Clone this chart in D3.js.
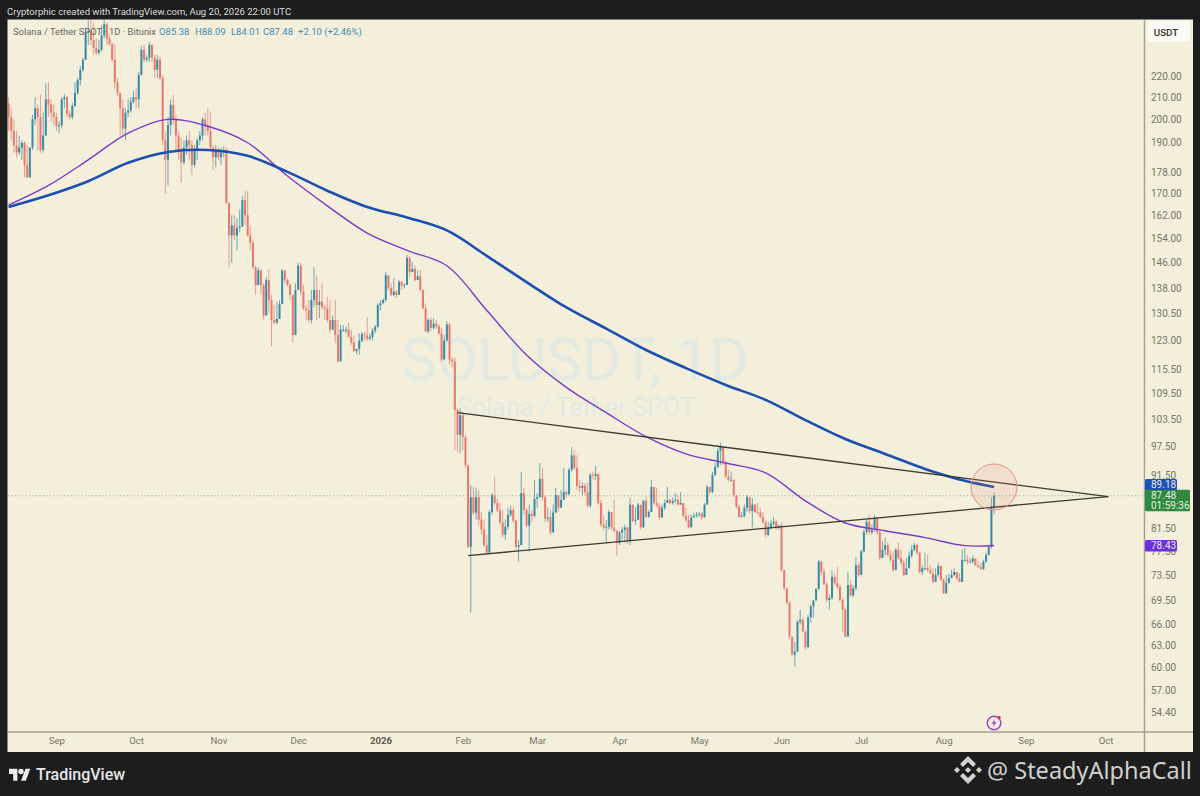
<!DOCTYPE html>
<html>
<head>
<meta charset="utf-8">
<script src="https://cdn.jsdelivr.net/npm/d3@7"></script>
<style>
html, body { margin: 0; padding: 0; background: #1d1d1d; overflow: hidden; }
text { font-family: Roboto, "Noto Sans", sans-serif; }
</style>
</head>
<body>
<div id="chart"></div>
<script>
// SOL/USDT daily. open of a day = close of the day before
var lastDay = new Date(Date.UTC(2026, 7, 20));
var firstOpen = 207;

var closes = [201,195,189,186,188,190,181,176,188,200,205,201,187,193,209,206.5,203,201,197,197.5,
209,210,202.5,201,206,212,218,223,228,242,243,238,234,231.5,233,240.5,246.5,239,236,228,
217,212,205,196,203,204,208,210,209,220.5,233,228,229,235.5,229,223,228,219,191,183,
197.5,206.5,200,193,187,182,188,191,189,181,187,191,193,200,197.5,195,188,184,187,184,
186,187,166.5,155,158.5,155,157.5,158,167.5,162,155,152.5,144.5,139,143.5,139,130,140.5,134.5,128.7,
128,129,133.3,143.5,140.5,139,136,124.5,137.5,145,137,132,131.5,128.7,134.5,137.5,133,134,132.4,132,
128.7,126,128.7,124.5,117.5,126,126,126,124,122.5,120.2,120.8,123,124.8,124.5,123.5,124,125.7,126.8,133,133.5,
134.5,142,138,136,137,136,140,138.8,139,147.5,143,144,140.5,141.7,137.5,132,125.5,128.7,126.5,127.7,127,125,118,
123,127.5,118,117.5,105.6,100,104.4,99.5,93.6,78.2,87.2,84.3,87.2,83,81.2,78.5,
77.2,84.4,87.6,86.1,84.8,82.5,80.3,81.7,83.9,84.8,82.8,78.2,78.5,88,84.8,81.9,84.1,83.7,86.9,87.2,
90.8,87.2,83.2,83.4,80.7,84.3,87.6,85.2,86.7,88.2,87.8,92.6,95.6,93,89.4,89,89.4,88.2,85.6,91.6,
91.4,91.8,86.1,82.1,81.6,81.7,84.4,81.6,81,78.9,80.7,81.2,81.6,79.2,85.8,82.8,83,85.8,81.6,86.5,
83.5,84.4,89.2,86.1,85.6,83.4,85.2,86.1,86.7,86.1,86.5,86.7,85.8,86.1,83.7,83,81.6,83.4,83.7,83.9,
84.1,83.4,85.8,89.2,88.2,91.6,93.2,96.5,97.4,94,91.2,90.6,90.6,87.6,85.4,83.5,83.7,85.2,87.2,84.6,
85.8,84.4,84.3,83.5,82.5,80.3,81.6,82.3,82.6,81.6,81.9,74.3,71.4,69.2,64.2,61.7,62.1,66.3,66.6,64.9,
62.7,67,68.6,69.5,71.3,75.7,74,72,69.6,69.9,73.2,72.2,71.6,69.6,68.1,64.2,71.9,70.3,71.4,75.1,
73.5,77.4,80.8,82.6,80.7,81.2,83.4,80.7,76.3,77.7,78.5,76.8,76,74.3,77.7,76.3,75.5,73.5,74.6,76.7,
77.7,78.5,77.2,74,74.6,74.6,74.3,73.8,72.4,73.5,75,72.7,70.6,72.2,73,73.5,74,73,72.4,76,
76,75.7,75.7,76.2,75.1,74.8,74.5,75.7,76.8,78.2,85.38,87.48];

var highs = [210,205,200,195,193,191,190.5,189,188,202,210,206.5,211,203,216.5,217,209,206.5,203,199,
210,211.5,210.5,204,207.5,217,219,225,229,244,249,250,247.5,239,238,246,249,247.5,241,237,
236,219,212,209,205,209,210,213,214,222,235,235.5,230.5,237,236,230.5,230.5,229.5,220.5,195,
201,209,211,202,195,192,191,193,195,191,189,192,195,201,203,205,203,189,189,188,
188,188.5,188,166.5,162,162,161,164,169,171,171,158,153.5,145,144.5,144,139.5,141.5,144,136,
133,134,134.5,144,143.5,141,139.5,136,139.5,146,146,139,133,134.5,137.5,144.5,142,137.5,139.5,133,
135.5,134.5,130,134.5,128.7,127.3,127.3,126.8,128,126,124.5,120.5,125,125.4,125.4,129.5,125,126.5,127.3,133.5,134.5,
135,143,141.5,139.5,141,137.5,140.5,139.3,139.5,148.5,148,146.3,145,143.5,143.5,137.5,133.5,129.2,129.5,129.2,128.7,127.5,126.5,
124.5,128.4,128,118.5,118.5,106,106,105.2,100,93.6,89.6,89.2,89,88.6,84.4,83,
80.3,84.8,88,91.2,87,86.1,84.8,83,85.2,85.6,85.4,83,79.4,92.2,89,85.2,85.8,84.8,90.6,88,
94,93,87.6,85.2,84.8,85.8,89,87.6,88.6,93,88.6,93,97.4,96.7,95.6,90.6,90.2,90,90,92,
92.2,93.4,91.8,86.7,83.9,83,84.8,84.4,86.7,81.2,81,81.7,82.1,81.7,87.1,85.8,85.4,86.1,85.2,86.7,
87.2,84.8,90.6,89,89,86.1,85.8,86.7,89.2,86.9,87.1,88,87.6,88.2,86.1,85.2,83.9,83.9,84.3,84.4,
84.4,84.4,86.1,89.6,89.2,92.2,94,97.2,98.3,97.4,94.6,92.6,92.2,89.6,87.6,85.8,84.4,85.8,87.6,87.2,
87.1,85.8,86.1,85.2,84.4,83,82.6,83,83.5,83,82.1,82.5,74.3,71.4,69.2,64.2,63.5,66.6,68.1,66.9,
65.2,67.3,68.9,69.6,71.4,76,75.5,74.6,72.4,70.4,74.3,73.7,74.8,71.9,69.9,68.4,74,72.7,71.9,76.5,
75.5,77.7,81.2,83,83.9,82.1,83.9,83,81.2,79.2,79.8,79,77.7,77.4,78,78.9,77.7,76,76.3,77.4,
78.5,78.9,78.7,77.4,75.1,77.2,76.8,75.1,74.6,74.6,75.5,74.6,73,73.5,73.7,74.3,74.6,74,73.8,77.7,
78,76.8,76.3,76.7,76.3,75.8,75.5,76,77.2,78.5,87.2,88.09];

var lows = [195,191,186,184,185,183,176,176,176.5,187,197.5,187,186,186,193,201,199,197.5,195,194,
196,205,201,200,200,205.5,211,215.5,222,228,235.5,235.5,230.5,230.5,230.5,232,239,235.5,235,227,
214,210.5,193,193,191,201,203,207,205,205,220.5,227,227,227,227,219,219,218,189,170,
173,193,197.5,187,183,174,181,185,183,177,180,183,189,191,193,193,187,179,180,183,
181,184,166,144.5,146,153.5,150,156,158,158.5,154.5,150,144,136,139,136,128.7,130,130.5,121.5,
127.5,127.5,129.5,135.5,139.5,138.5,134.5,122.5,126,138.5,136,131.5,128.7,128,127.7,132.4,128.7,129.2,131.5,128.7,
128,125,127.7,122.3,117.2,118,125.4,125,124,121.8,120,119.5,119.2,122.5,123,123,123,123,125,126.5,131.5,
133.5,134,137.5,135.5,135.5,135,136,137.5,138,139,141.5,143.5,140,141,137.2,132,125.5,125,125.7,126,126.2,124.5,117.5,
118.5,123,116.7,116,96.7,96.3,96,96.7,93,78,67.7,83.8,83,82,80.3,78.2,
76.9,77.7,83.9,85.7,84.4,82.1,79.9,79.4,81.2,83.5,82.5,77.7,75.7,78.5,83.9,81.6,77.4,82.6,83.4,85.2,
87.2,86.7,82.6,82.6,80.3,81.6,84.4,84.4,85.8,86.7,87.1,87.6,92.2,92.6,88.6,88.2,87.6,87.6,85.2,85.2,
90.6,90.6,85.8,81.7,81.2,78.9,81.2,81.2,80.8,76.7,78.5,79.4,78.9,78.7,78.5,82.5,82.1,83,81.2,81.6,
83.4,83.4,84.8,85.8,85.2,83,83.4,84.8,86.1,85.8,85.8,86.1,85.6,85.8,83.4,82.6,81.4,82.6,83.4,83.4,
83.5,83,83.7,85.8,87.8,88,91.4,93,93.6,93.6,91,90.2,90.2,87.2,85,83.4,83.4,83.4,84.4,84.1,
81.6,84.3,83.9,83.2,82.3,79.9,80.1,81.2,81.9,81.2,81.2,74,71.1,68.9,63.8,61.6,60.1,62.1,65.9,64.8,
62.4,63.1,66.2,66.9,69.6,71.1,73.5,71.9,69.3,68.1,69.6,71.9,71.3,69.3,64.8,64.1,66,70,70,71.1,
73.2,73.5,77.2,80.3,80.3,80.3,80.8,80.3,76,76.5,76.8,76.7,75.7,74,74.3,76,75.1,73.3,74.3,75.5,
76.3,77.4,76.8,73.8,73.5,74.3,74,73.7,72.2,72.4,73.2,72.5,70.5,72,72.4,73.2,73.3,72.7,72.4,72.4,
75.7,75.3,75.5,75.3,75,74.6,74.3,74.3,75.5,76.7,77.9,84.01];

// moving averages, read every 15 bars (and the last bar)
var maBars = [0,15,30,45,60,75,90,105,120,135,150,165,180,195,210,225,240,255,270,285,300,315,330,345,360,371];
var ma200 = [165,169.3,174.6,181.8,186.2,187,184.6,178.2,171,165,161.2,156.7,148.2,139.9,132.3,126.3,120.5,115.8,111.6,108,103.3,99.1,95.9,92.8,90.4,89.18];
var ma100 = [165.7,173,183,194,200,197,190,176.6,165.4,155.8,150,145,131.5,119.2,111,105,99.6,95.9,94,92,86.5,82.4,81,79.8,78.4,78.43];

var trendUpperDates = ["2026-01-30", "2026-10-02"];
var trendUpperPrices = [105, 87.3];
var trendLowerDates = ["2026-02-03", "2026-10-02"];
var trendLowerPrices = [76.7, 87.3];

var yTicks = [220,210,200,190,178,170,162,154,146,138,130.5,123,115.5,109.5,103.5,97.5,91.5,81.5,77.5,73.5,69.5,66,63,60,57,54.4];
var monthTicks = ["2025-09-01","2025-10-01","2025-11-01","2025-12-01","2026-01-01","2026-02-01","2026-03-01","2026-04-01","2026-05-01","2026-06-01","2026-07-01","2026-08-01","2026-09-01","2026-10-01"];

var legendValues = ["O85.38", "H88.09", "L84.01", "C87.48", "+2.10 (+2.46%)"];

var width = 1200, height = 796;
var parseDay = d3.utcParse("%Y-%m-%d");

var bars = closes.map(function(c, i) {
	return {
		date: d3.utcDay.offset(lastDay, i - closes.length + 1),
		open: i ? closes[i - 1] : firstOpen,
		high: highs[i],
		low: lows[i],
		close: c
	};
});
// the last bar has its own open in the legend
bars[bars.length - 1].open = 85.38;

var x = d3.scaleUtc()
	.domain([parseDay("2025-09-01"), parseDay("2026-10-01")])
	.range([56.4, 1105.6]);

var y = d3.scaleLog()
	.domain([54.4, 220])
	.range([712, 76]);

var UP = "#3b8ba6", DOWN = "#e8796d", CREAM = "#f3efdb", GRID = "#a3a18f", TXT = "#77766a";

var svg = d3.select("#chart").append("svg")
	.attr("width", width)
	.attr("height", height)
	.style("display", "block");

svg.append("rect").attr("width", width).attr("height", height).attr("fill", "#1d1d1d");
svg.append("rect").attr("x", 7.5).attr("y", 19.5).attr("width", 1185.5).attr("height", 732.5).attr("fill", CREAM);

svg.append("text")
	.attr("x", 7).attr("y", 14.5)
	.attr("fill", "#dcdcdc").attr("font-size", 9.5)
	.text("Cryptorphic created with TradingView.com, Aug 20, 2026 22:00 UTC");

svg.append("defs").append("clipPath").attr("id", "pane")
	.append("rect").attr("x", 8).attr("y", 20).attr("width", 1136).attr("height", 712);

var pane = svg.append("g").attr("clip-path", "url(#pane)");

// watermark
pane.append("text")
	.attr("x", 575).attr("y", 380).attr("text-anchor", "middle")
	.attr("font-size", 59.5).attr("fill", "#e3eae2")
	.text("SOLUSDT, 1D");
pane.append("text")
	.attr("x", 576).attr("y", 416).attr("text-anchor", "middle")
	.attr("font-size", 25).attr("fill", "#e3eae2")
	.text("Solana / Tether SPOT");

// last price dotted line
pane.append("line")
	.attr("x1", 8).attr("x2", 1144)
	.attr("y1", y(87.48)).attr("y2", y(87.48))
	.attr("stroke", "#6f9a72").attr("stroke-width", 0.8).attr("stroke-dasharray", "1 2.5");

// candles
var candle = pane.append("g").selectAll("g").data(bars).join("g")
	.attr("fill", function(d) { return d.close >= d.open ? UP : DOWN; })
	.attr("stroke", function(d) { return d.close >= d.open ? UP : DOWN; });

candle.append("line")
	.attr("x1", function(d) { return x(d.date); })
	.attr("x2", function(d) { return x(d.date); })
	.attr("y1", function(d) { return y(d.high); })
	.attr("y2", function(d) { return y(d.low); })
	.attr("stroke-width", 0.9)
	.attr("stroke-opacity", 0.8);

candle.append("rect")
	.attr("x", function(d) { return x(d.date) - 1; })
	.attr("width", 2)
	.attr("y", function(d) { return y(Math.max(d.open, d.close)); })
	.attr("height", function(d) { return Math.max(1, Math.abs(y(d.open) - y(d.close))); })
	.attr("stroke", "none");

// moving averages
var maLine = d3.line()
	.x(function(d) { return x(bars[d.bar].date); })
	.y(function(d) { return y(d.value); })
	.curve(d3.curveCatmullRom.alpha(0.5));

function maPoints(values) {
	return values.map(function(v, i) { return {bar: maBars[i], value: v}; });
}

pane.append("path").datum(maPoints(ma100))
	.attr("d", maLine).attr("fill", "none")
	.attr("stroke", "#7a3cc4").attr("stroke-width", 1.4);
pane.append("path").datum(maPoints(ma200))
	.attr("d", maLine).attr("fill", "none")
	.attr("stroke", "#1c4fb0").attr("stroke-width", 2.6);

// hand drawn triangle
function trend(dates, prices) {
	pane.append("line")
		.attr("x1", x(parseDay(dates[0]))).attr("y1", y(prices[0]))
		.attr("x2", x(parseDay(dates[1]))).attr("y2", y(prices[1]))
		.attr("stroke", "#3d3a30").attr("stroke-width", 1.3);
}
trend(trendUpperDates, trendUpperPrices);
trend(trendLowerDates, trendLowerPrices);

// circle around the last bar
pane.append("circle")
	.attr("cx", x(lastDay)).attr("cy", y(89.18)).attr("r", 23)
	.attr("fill", "#e8796d").attr("fill-opacity", 0.14)
	.attr("stroke", "#e2908a").attr("stroke-width", 1);

// event marker
var bolt = pane.append("g").attr("transform", "translate(" + x(lastDay) + ",723)");
bolt.append("circle").attr("r", 6.8).attr("fill", CREAM).attr("stroke", "#9a47c8").attr("stroke-width", 1.5);
bolt.append("path").attr("d", "M1.2-4L-2.6 .8H-.2L-1.2 4L2.6-.8H.2Z").attr("fill", "#9a47c8");
bolt.append("circle").attr("cx", 5).attr("cy", -5.6).attr("r", 1.6).attr("fill", "#e0344a");

// legend on top of the candles
svg.append("text").attr("x", 13).attr("y", 34.5).attr("font-size", 9.4).attr("fill", "#66655c")
	.text("Solana / Tether SPOT \u00b7 1D \u00b7 Bitunix");
var legendX = [159, 195, 231, 263, 298];
legendValues.forEach(function(t, i) {
	svg.append("text").attr("x", legendX[i]).attr("y", 34.5)
		.attr("font-size", 9.5).attr("fill", "#3f8db3").text(t);
});

// axes
svg.append("line").attr("x1", 1144.5).attr("x2", 1144.5).attr("y1", 20).attr("y2", 752).attr("stroke", GRID).attr("stroke-width", 1.4);
svg.append("line").attr("x1", 8).attr("x2", 1193).attr("y1", 732).attr("y2", 732).attr("stroke", GRID).attr("stroke-width", 1.4);

var yAxis = d3.axisRight(y)
	.tickValues(yTicks)
	.tickFormat(d3.format(".2f"))
	.tickSize(0)
	.tickPadding(6);
var gy = svg.append("g").attr("transform", "translate(1145,0)").call(yAxis);
gy.select(".domain").attr("display", "none");
gy.selectAll("text").attr("font-size", 10).attr("fill", TXT).style("font-family", "Roboto");

var xAxis = d3.axisBottom(x)
	.tickValues(monthTicks.map(parseDay))
	.tickFormat(function(d) {
		return d.getUTCMonth() == 0 ? d3.utcFormat("%Y")(d) : d3.utcFormat("%b")(d);
	})
	.tickSize(0)
	.tickPadding(5.5);
var gx = svg.append("g").attr("transform", "translate(0,732)").call(xAxis);
gx.select(".domain").attr("display", "none");
gx.selectAll("text")
	.attr("font-size", 9.6)
	.style("font-family", "Roboto")
	.attr("font-weight", function(d) { return d.getUTCMonth() == 0 ? 700 : 400; })
	.attr("fill", function(d) { return d.getUTCMonth() == 0 ? "#5a594f" : TXT; });

// USDT box
svg.append("rect").attr("x", 1147).attr("y", 21).attr("width", 43).attr("height", 21).attr("rx", 2).attr("fill", "#fbfaf4");
svg.append("text").attr("x", 1166).attr("y", 35.5).attr("text-anchor", "middle")
	.attr("font-size", 9.8).attr("font-weight", 500).attr("fill", "#33332e").text("USDT");

// price labels
function priceBox(top, w, h, color, lines) {
	svg.append("rect").attr("x", 1145).attr("y", top).attr("width", w).attr("height", h).attr("rx", 1.5).attr("fill", color);
	lines.forEach(function(t, i) {
		svg.append("text").attr("x", 1151).attr("y", top + 9.2 + i * 10.4)
			.attr("font-size", 10).attr("fill", "#e9eee6").text(t);
	});
}
priceBox(y(89.18) - 8, 32, 11.5, "#1c4fb8", [d3.format(".2f")(89.18)]);
priceBox(y(87.48) - 6, 45, 21.5, "#2f8a3c", [d3.format(".2f")(87.48), "01:59:36"]);
priceBox(y(78.43) - 5.5, 32, 11.5, "#6b2ee0", [d3.format(".2f")(78.43)]);

// footer
var logo = svg.append("g").attr("transform", "translate(9,767.5) scale(.6)").attr("fill", "#ececec");
logo.append("path").attr("d", "M14 22H7V11H0V2h14zM28 22h-8l7.5-20h8z");
logo.append("circle").attr("cx", 20).attr("cy", 6.5).attr("r", 4.5);
svg.append("text").attr("x", 36).attr("y", 780).attr("font-size", 16).attr("font-weight", 500)
	.attr("fill", "#e6e6e6").text("TradingView");

var bnb = svg.append("g").attr("transform", "translate(968,770)").attr("fill", "#d4d4d4");
bnb.append("path").attr("d", "M0-14L8-6L5-3L0-8L-5-3L-8-6Z");
bnb.append("path").attr("d", "M0 14L8 6L5 3L0 8L-5 3L-8 6Z");
bnb.append("path").attr("d", "M0-3L3 0L0 3L-3 0Z");
bnb.append("path").attr("d", "M-11-3L-8 0L-11 3L-14 0Z");
bnb.append("path").attr("d", "M11-3L14 0L11 3L8 0Z");
svg.append("text").attr("x", 987).attr("y", 779).attr("font-size", 23.5).attr("fill", "#cfcfcf")
	.style("font-family", "'Noto Sans'").text("@ SteadyAlphaCall");
</script>
</body>
</html>
